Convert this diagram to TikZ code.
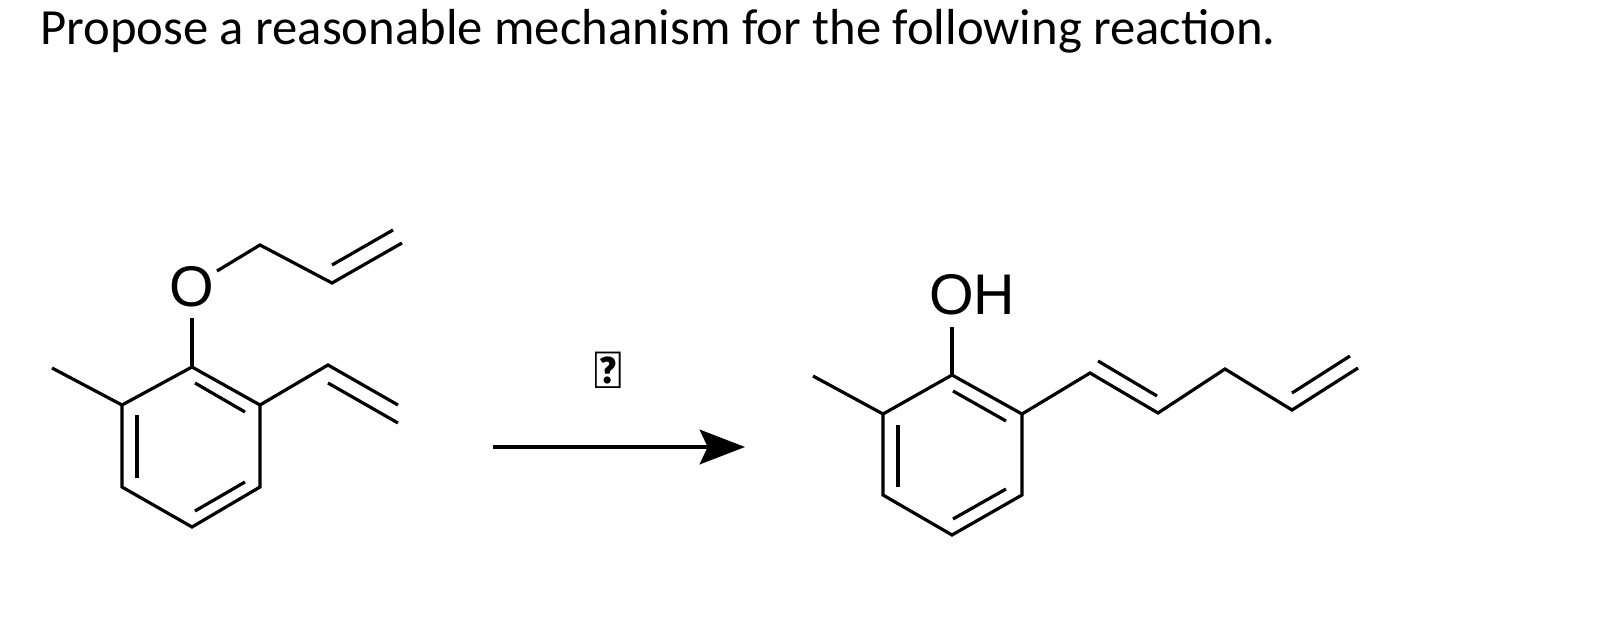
\documentclass[tikz,border=0pt]{standalone}
\usepackage{fontspec}
\setmainfont{Carlito}
\newfontfamily\atomfont{Liberation Sans}
\newfontfamily\delfont{Liberation Serif}
\usetikzlibrary{arrows.meta}
\begin{document}
\begin{tikzpicture}[x=0.75pt,y=-0.75pt,
  bond/.style={line width=2.4pt,line cap=butt},
  atom/.style={font=\atomfont\fontsize{43}{43}\selectfont,inner sep=0pt}]
\useasboundingbox (0,0) rectangle (1598,634);
\node[anchor=base west,inner sep=0pt,font=\fontsize{38}{38}\selectfont] (title) at (40,45) {Propose a reasonable mechanism for the following reaction.};
% left molecule
\coordinate (a1) at (192,367); \coordinate (a2) at (260,405);
\coordinate (a3) at (260,487); \coordinate (a4) at (192,527);
\coordinate (a5) at (122,487); \coordinate (a6) at (122,405);
\coordinate (am) at (52,368);
\node[atom] (O) at (192,287) {O};
\coordinate (ac1) at (260,245); \coordinate (ac2) at (332,283); \coordinate (ac3) at (402,243);
\coordinate (av1) at (328,365); \coordinate (av2) at (398,405);
\draw[bond] (a1)--(a2)--(a3)--(a4)--(a5)--(a6)--cycle;
\draw[bond] (a6)--(am);
\draw[bond] (a1)--(192,318);
\draw[bond] (217,271)--(ac1)--(ac2)--(ac3);
\draw[bond] (332,265)--(393,230);
\draw[bond] (a2)--(av1)--(av2);
\draw[bond] (328,383)--(398,423);
\draw[bond] (195,383)--(245,412);
\draw[bond] (137,415)--(137,478);
\draw[bond] (195,511)--(245,482);
% arrow
\node[font=\delfont\fontsize{40}{40}\selectfont,inner sep=0pt] (del) at (608,370) {$\mathbf{\Delta}$};
\coordinate (s) at (493,447); \coordinate (e) at (745,447);
\draw[line width=2.4pt,-{Stealth[length=34pt,width=26pt,inset=6pt]}] (s)--(e);
% right molecule
\coordinate (b1) at (952,375); \coordinate (b2) at (1022,414);
\coordinate (b3) at (1022,495); \coordinate (b4) at (952,535);
\coordinate (b5) at (883,495); \coordinate (b6) at (883,414);
\coordinate (bm) at (813,376);
\node[atom] (OH) at (972,295) {OH};
\coordinate (c1) at (1090,373); \coordinate (c2) at (1158,413);
\coordinate (c3) at (1225,369); \coordinate (c4) at (1292,410); \coordinate (c5) at (1358,368);
\draw[bond] (b1)--(b2)--(b3)--(b4)--(b5)--(b6)--cycle;
\draw[bond] (b6)--(bm);
\draw[bond] (b1)--(952,327);
\draw[bond] (b2)--(c1)--(c2)--(c3)--(c4)--(c5);
\draw[bond] (1098,361)--(1157,396);
\draw[bond] (1292,393)--(1350,356);
\draw[bond] (953,391)--(1006,421);
\draw[bond] (898,425)--(898,487);
\draw[bond] (953,519)--(1006,489);
\end{tikzpicture}
\end{document}
